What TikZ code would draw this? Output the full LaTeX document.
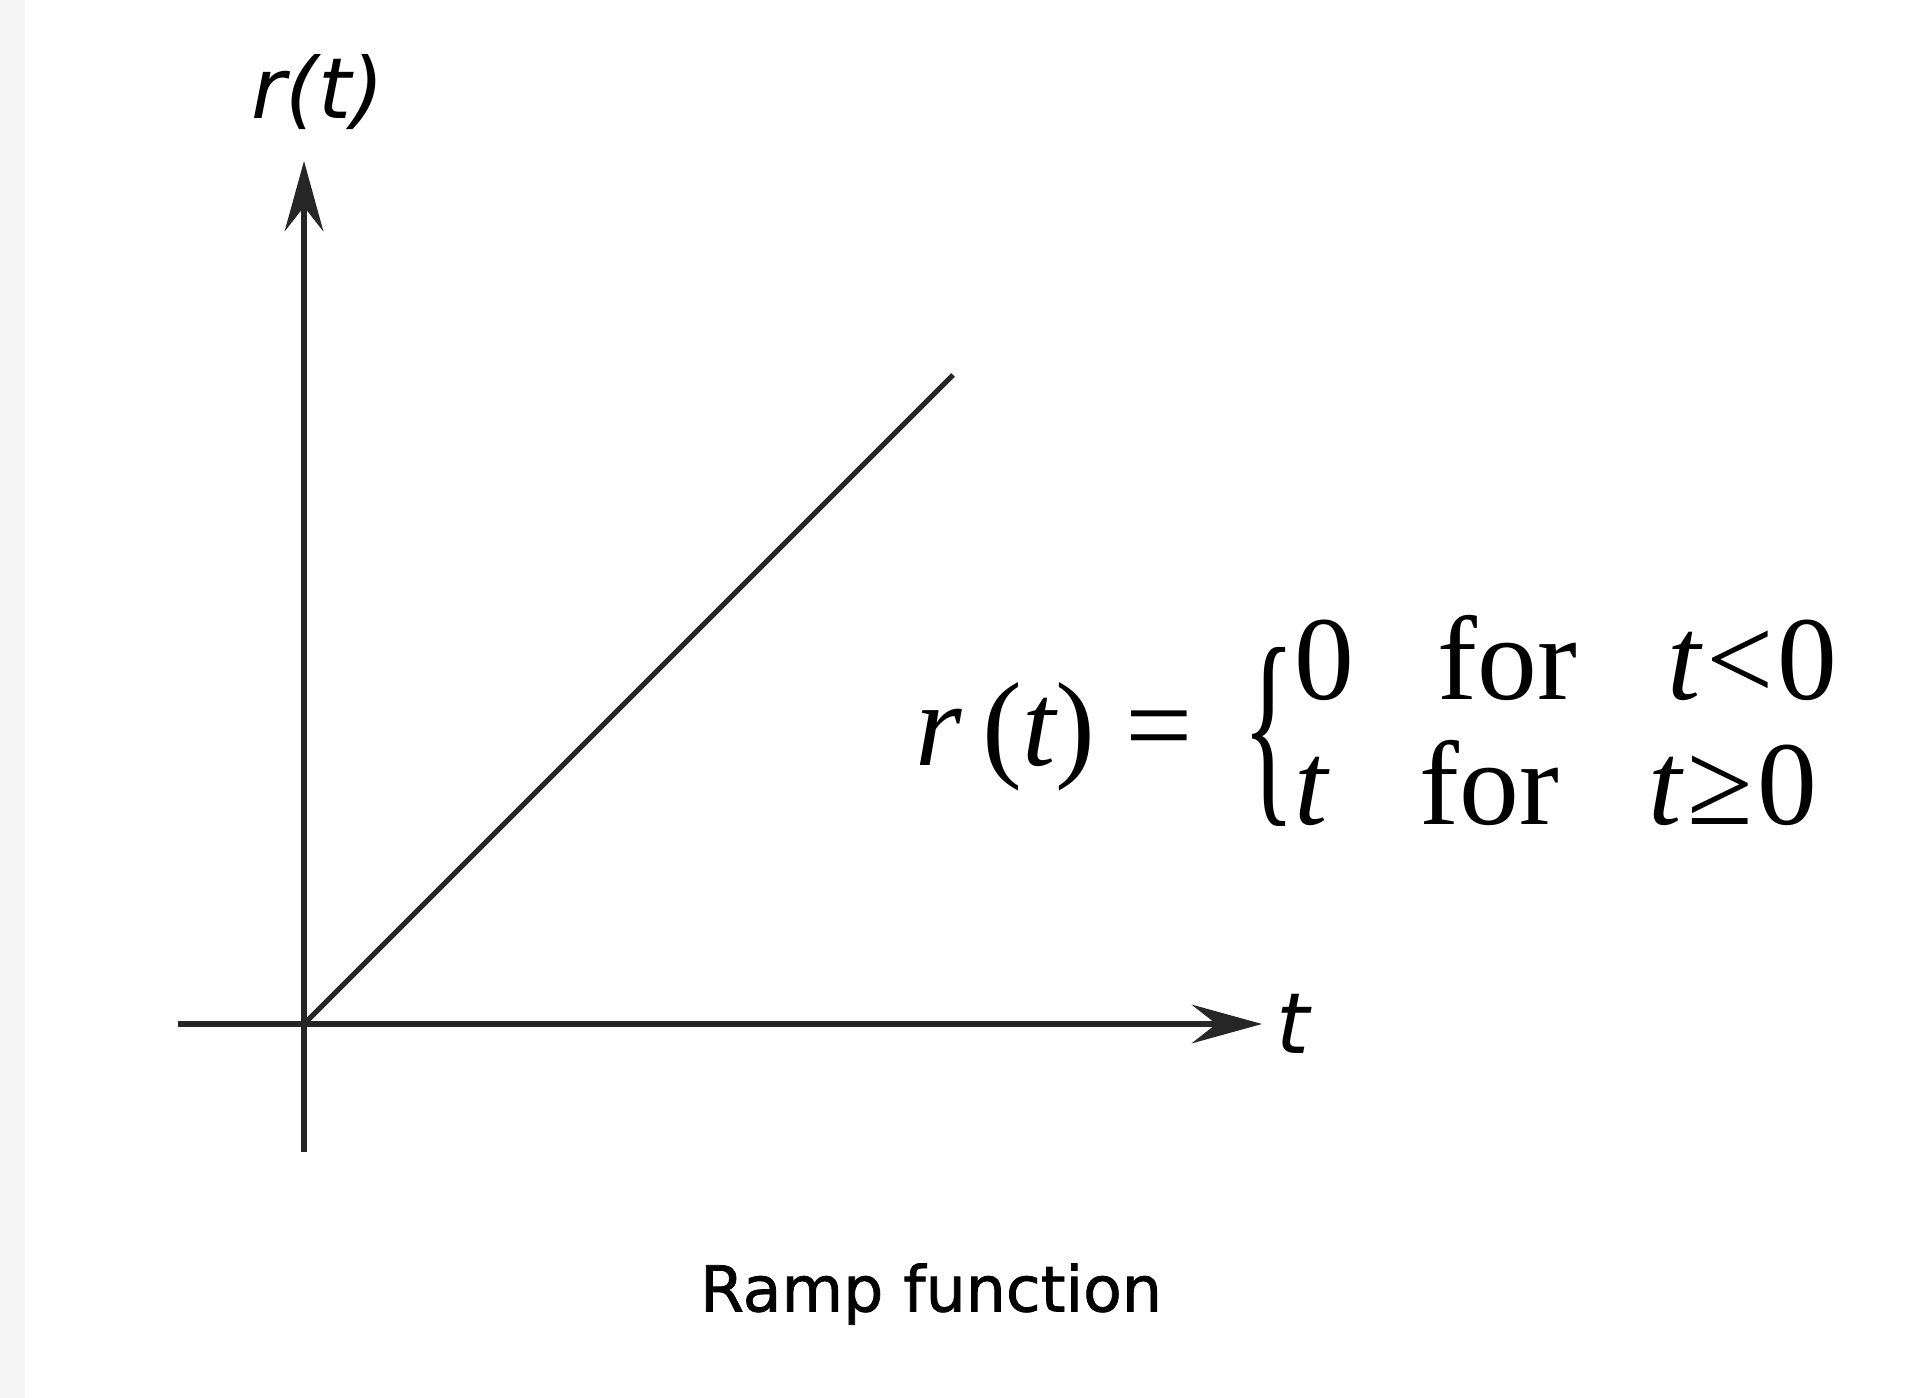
\documentclass[tikz,border=0pt]{standalone}
\usepackage{fontspec}
\usepackage{graphicx}
\setmainfont{Liberation Serif}
\newfontfamily\capfont[FakeBold=1.2]{DejaVu Sans}
\newfontfamily\axfont{DejaVu Sans}
\usetikzlibrary{arrows.meta}
\begin{document}
\begin{tikzpicture}[x=0.01cm,y=-0.01cm,
  axis/.style={line width=1.5pt,draw=black!85},
  tip/.style={-{Stealth[length=20pt,width=11pt,inset=7pt]}}]
\useasboundingbox (0,0) rectangle (1928,1398);
\fill[white] (0,0) rectangle (1928,1398);
\fill[black!4] (0,0) rectangle (25,1398);
\coordinate (o) at (304,1024);
\coordinate (ybot) at (304,1152);
\coordinate (ytop) at (304,161);
\coordinate (xl) at (178,1024);
\coordinate (xr) at (1262,1024);
\coordinate (re) at (953,375);
\draw[axis] (ybot) -- (o);
\draw[axis,tip] (o) -- (ytop);
\draw[axis] (xl) -- (o);
\draw[axis,tip] (o) -- (xr);
\draw[axis] (o) -- (re);
\node (rl) at (318,92) {\fontsize{24}{28}\selectfont\axfont\itshape r(t)};
\node[anchor=west] (tl) at (1264,1024) {\fontsize{24}{28}\selectfont\axfont\itshape t};
\node[anchor=east] (lhs) at (1205,737) {\fontsize{34}{40}\selectfont\itshape r\,\upshape(\itshape t\upshape) =};
\node[anchor=west] (br) at (1230,737) {\scalebox{1.05}[2.05]{\fontsize{30}{34}\selectfont\{}};
\node[anchor=base west] (l1) at (1282,700) {\fontsize{34}{40}\selectfont 0\hspace{0.7em}for\hspace{0.75em}\textit{t}\kern1pt<\kern1pt0};
\node[anchor=base west] (l2) at (1282,824) {\fontsize{34}{40}\selectfont \textit{t}\hspace{0.75em}for\hspace{0.75em}\textit{t}\kern1pt≥\kern1pt0};
\node (cap) at (931,1294) {\fontsize{18}{22}\selectfont\capfont Ramp function};
\end{tikzpicture}
\end{document}
